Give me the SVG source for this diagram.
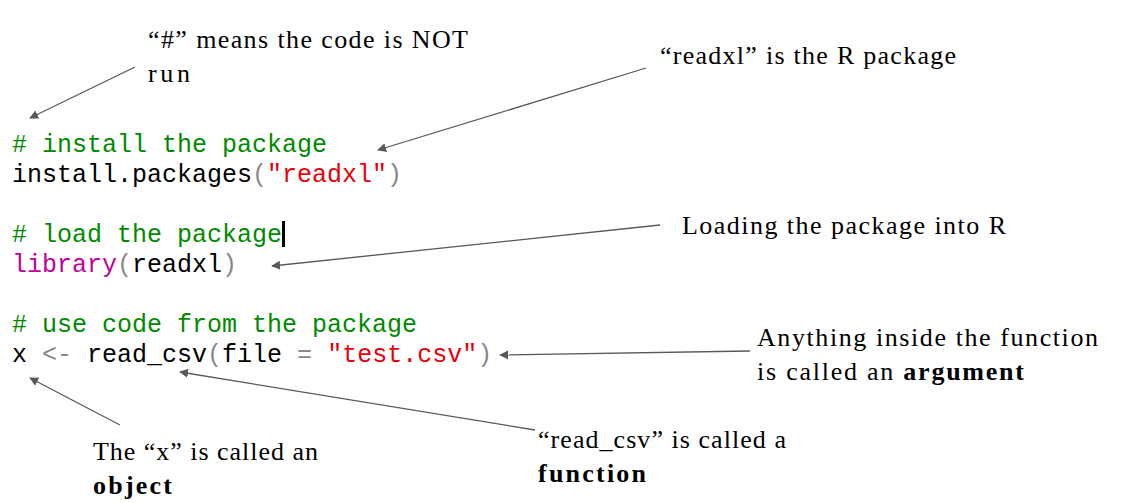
<svg xmlns="http://www.w3.org/2000/svg" width="1126" height="503" viewBox="0 0 1126 503">
<defs>
<style>
.c{font-family:"Liberation Mono","DejaVu Sans Mono",monospace;font-size:25px}
.g{fill:#008a00}.k{fill:#000}.r{fill:#e8000b}.m{fill:#c000a0}.p{fill:#888}
.a{font-family:"Liberation Serif","DejaVu Serif",serif;font-size:26px;fill:#000}
.ln{stroke:#595959;stroke-width:1.3;fill:none;marker-end:url(#ah)}
</style>
<marker id="ah" viewBox="0 0 10 10" refX="9" refY="5" markerWidth="9" markerHeight="9" markerUnits="userSpaceOnUse" orient="auto"><path d="M0,0 L10,5 L0,10 z" fill="#595959"/></marker>
</defs>
<rect width="1126" height="503" fill="#fff"/>
<g id="code">
<text class="c" x="12" y="152"><tspan class="g"># install the package</tspan></text>
<text class="c" x="12" y="182"><tspan class="k">install.packages</tspan><tspan class="p">(</tspan><tspan class="r">"readxl"</tspan><tspan class="p">)</tspan></text>
<text class="c" x="12" y="242"><tspan class="g"># load the package</tspan></text>
<rect x="282" y="221" width="3" height="26" fill="#000"/>
<text class="c" x="12" y="272"><tspan class="m">library</tspan><tspan class="p">(</tspan><tspan class="k">readxl</tspan><tspan class="p">)</tspan></text>
<text class="c" x="12" y="332"><tspan class="g"># use code from the package</tspan></text>
<text class="c" x="12" y="362"><tspan class="k">x </tspan><tspan class="p">&lt;-</tspan><tspan class="k"> read_csv</tspan><tspan class="p">(</tspan><tspan class="k">file </tspan><tspan class="p">=</tspan><tspan class="k"> </tspan><tspan class="r">"test.csv"</tspan><tspan class="p">)</tspan></text>
</g>
<g id="n1"><text class="a" x="148" y="48" textLength="320">“#” means the code is NOT</text><text class="a" x="148" y="82" textLength="42">run</text></g>
<g id="n2"><text class="a" x="660" y="64" textLength="296">“readxl” is the R package</text></g>
<g id="n3"><text class="a" x="682" y="234" textLength="324">Loading the package into R</text></g>
<g id="n4"><text class="a" x="757" y="346" textLength="341">Anything inside the function</text><text class="a" x="757" y="380" textLength="267">is called an <tspan font-weight="bold">argument</tspan></text></g>
<g id="n5"><text class="a" x="93" y="460" textLength="225">The “x” is called an</text><text class="a" x="93" y="494" font-weight="bold" textLength="79">object</text></g>
<g id="n6"><text class="a" x="538" y="448" textLength="248">“read_csv” is called a</text><text class="a" x="538" y="482" font-weight="bold" textLength="108">function</text></g>
<g id="connectors">
<line class="ln" x1="135" y1="67" x2="30" y2="118"/>
<line class="ln" x1="646" y1="68" x2="378" y2="150"/>
<line class="ln" x1="660" y1="225" x2="272" y2="266"/>
<line class="ln" x1="750" y1="351" x2="500" y2="355"/>
<line class="ln" x1="535" y1="430" x2="180" y2="372"/>
<line class="ln" x1="120" y1="425" x2="30" y2="378"/>
</g>
</svg>
